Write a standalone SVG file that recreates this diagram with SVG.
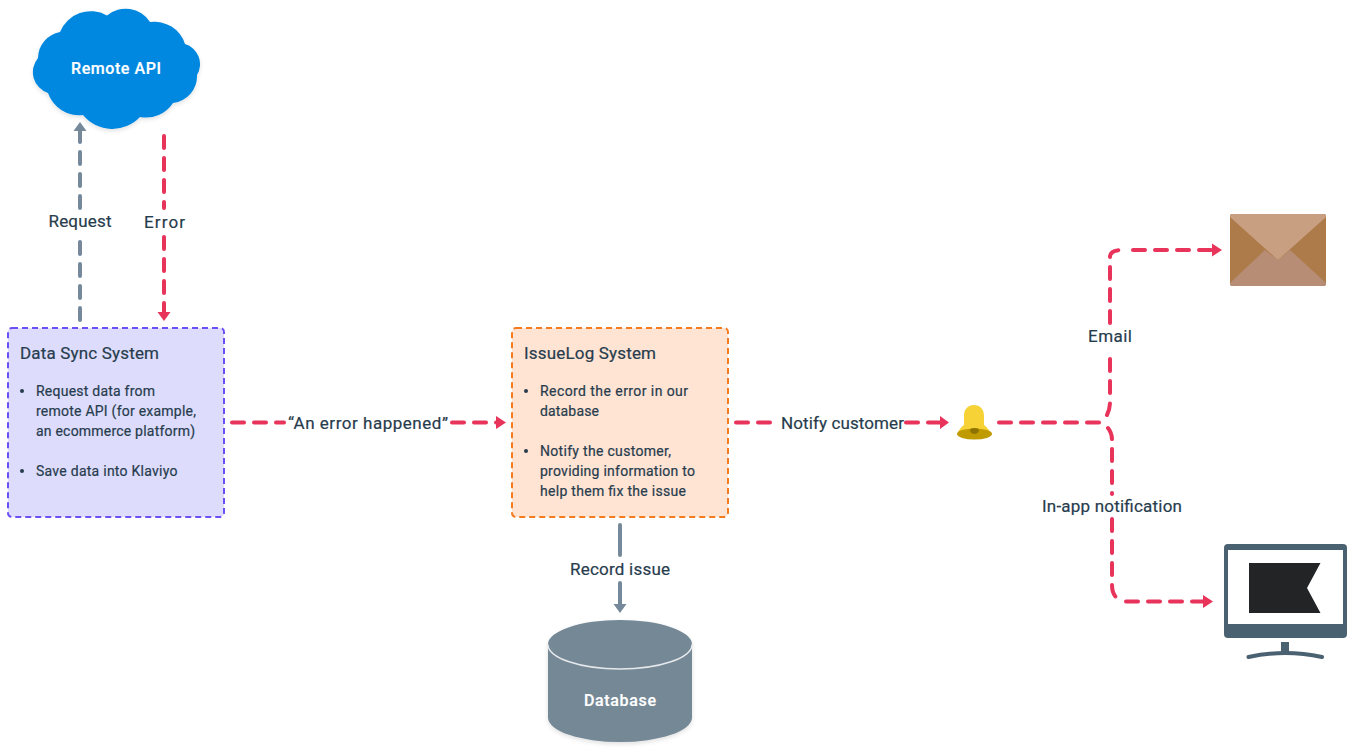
<svg xmlns="http://www.w3.org/2000/svg" width="1359" height="750" viewBox="0 0 1359 750">
<style>
text{font-family:Roboto,"Liberation Sans",sans-serif;fill:#273c4d;stroke:#273c4d;stroke-width:.2px}
.lb{font-size:17px;text-anchor:middle}
.t{font-size:17px}
.s{font-size:14px}
.w{font-size:16px;font-weight:500;fill:#fff;stroke:#fff;text-anchor:middle}
.c{fill:none;stroke-width:4;stroke-linecap:round}
.r{stroke:#e8335a;stroke-dasharray:12 10}
.g{stroke:#75899a;stroke-dasharray:12 10}
.gs{stroke:#75899a}
.ra{fill:#e8335a}
.ga{fill:#75899a}
.box{stroke-width:2;stroke-dasharray:6 4}
.dot{fill:#273c4d}
.sh{filter:url(#soft)}
</style>
<defs>
<filter id="soft" x="-10%" y="-10%" width="120%" height="125%"><feDropShadow dx="0" dy="2" stdDeviation="2" flood-color="#000" flood-opacity=".12"/></filter>
</defs>
<g id="connectors">
<g id="request"><path class="c g" d="M80 320V240M80 208V131"/><polygon class="ga" points="80,122 86.500,131 73.500,131"/><text class="lb" x="80" y="227" textLength="63">Request</text></g>
<g id="error"><path class="c r" d="M164 136V208M164 237V312"/><polygon class="ra" points="164,321 170.500,312 157.500,312"/><text class="lb" x="164.500" y="228" textLength="41">Error</text></g>
<g id="an-error"><path class="c r" d="M232 422.500H284M452 422.500H497"/><polygon class="ra" points="506,422.500 496,416 496,429"/><text class="lb" x="368" y="429" textLength="160">“An error happened”</text></g>
<g id="notify"><path class="c r" d="M736 422.500H772M906 422.500H941"/><polygon class="ra" points="949,422.500 940,416 940,429"/><text class="lb" x="842.500" y="429" textLength="123">Notify customer</text></g>
<g id="record"><path class="c gs" d="M620 525V555M620 583V604"/><polygon class="ga" points="620,613 613.500,604 626.500,604"/><text class="lb" x="620" y="575" textLength="100">Record issue</text></g>
<g id="to-email"><path class="c r" d="M999 422.500H1100"/><path class="c r" d="M1107 415Q1110 409 1110 402M1110 393V349M1110 323V267M1110 257Q1110 250 1122 250M1133 250H1213"/><polygon class="ra" points="1222,250 1212,243.500 1212,256.500"/><text class="lb" x="1110" y="342" textLength="44">Email</text></g>
<g id="to-app"><path class="c r" d="M1108 428Q1112 433 1112 440M1112 449V494M1112 519V575M1112 585Q1112 594 1117 598M1126 601.500H1204"/><polygon class="ra" points="1213,601.500 1203,595 1203,608"/><text class="lb" x="1112" y="512" textLength="140">In-app notification</text></g>
</g>
<g id="remote-api">
<path class="sh" fill="#0088e0" d="M60 32A33 33 0 0 1 107 15.500A29 29 0 0 1 150 22A32 32 0 0 1 185 44A21 21 0 0 1 197 75A27 27 0 0 1 173 103A32 32 0 0 1 140 117A38 38 0 0 1 83 115A33 33 0 0 1 48 93A22 22 0 0 1 38 58A27 27 0 0 1 60 32Z"/>
<text class="w" x="116" y="74" textLength="90">Remote API</text>
</g>
<g id="data-sync-system">
<rect class="box" x="8" y="328" width="216" height="189" rx="4" fill="#dedcfc" stroke="#6b4ff5"/>
<text class="t" x="20" y="359" textLength="139">Data Sync System</text>
<circle class="dot" cx="22" cy="391" r="2"/><text class="s" x="36" y="396" textLength="119">Request data from</text>
<text class="s" x="36" y="416" textLength="160">remote API (for example,</text>
<text class="s" x="36" y="436" textLength="159">an ecommerce platform)</text>
<circle class="dot" cx="22" cy="471" r="2"/><text class="s" x="36" y="476" textLength="141.500">Save data into Klaviyo</text>
</g>
<g id="issuelog-system">
<rect class="box" x="512" y="328" width="216" height="189" rx="4" fill="#ffe3d3" stroke="#f47b20"/>
<text class="t" x="524" y="359" textLength="132">IssueLog System</text>
<circle class="dot" cx="526" cy="391" r="2"/><text class="s" x="540" y="396" textLength="148">Record the error in our</text>
<text class="s" x="540" y="416" textLength="59">database</text>
<circle class="dot" cx="526" cy="451" r="2"/><text class="s" x="540" y="456" textLength="131">Notify the customer,</text>
<text class="s" x="540" y="476" textLength="155">providing information to</text>
<text class="s" x="540" y="496" textLength="146">help them fix the issue</text>
</g>
<g id="database">
<path class="sh" fill="#748896" d="M548 644.500A72 24.500 0 0 1 692 644.500V717.500A72 24.500 0 0 1 548 717.500Z"/>
<path fill="none" stroke="#e6e9ec" stroke-width="1.500" d="M548 644.500A72 24.500 0 0 0 692 644.500"/>
<text class="w" x="620" y="706" textLength="72">Database</text>
</g>
<g id="bell">
<path fill="#f6d236" d="M964 425V416C964 409 968 405 974 405C980 405 984 409 984 416V425C987 427 990 431 991 435H957C958 431 961 427 964 425Z"/>
<ellipse cx="974.500" cy="434" rx="17.500" ry="5.500" fill="#bf9a00"/>
<path fill="#8f7300" d="M970 430A4.500 2 0 0 1 979 430A4.500 4 0 0 1 970 430Z"/>
</g>
<g id="email">
<rect x="1230" y="214" width="96" height="72" rx="2" fill="#ad7a4a"/>
<path fill="#b78e75" d="M1230 283L1265 250L1278 260L1290 250L1326 283Q1326 286 1323 286H1233Q1230 286 1230 283Z"/>
<path fill="#c99f82" d="M1230 217Q1230 214 1233 214H1323Q1326 214 1326 217L1278 260Z"/>
</g>
<g id="in-app">
<rect x="1224" y="544" width="123" height="94" rx="4" fill="#4a6172"/>
<rect x="1228" y="550" width="115" height="74" fill="#fff"/>
<polygon points="1249,563 1320.500,563 1307,588 1320.500,613 1249,613" fill="#232426"/>
<rect x="1281" y="642" width="8" height="10" fill="#4a6172"/>
<path fill="none" stroke="#4a6172" stroke-width="4" stroke-linecap="round" d="M1248.500 657Q1285 649 1322 657"/>
</g>
</svg>
